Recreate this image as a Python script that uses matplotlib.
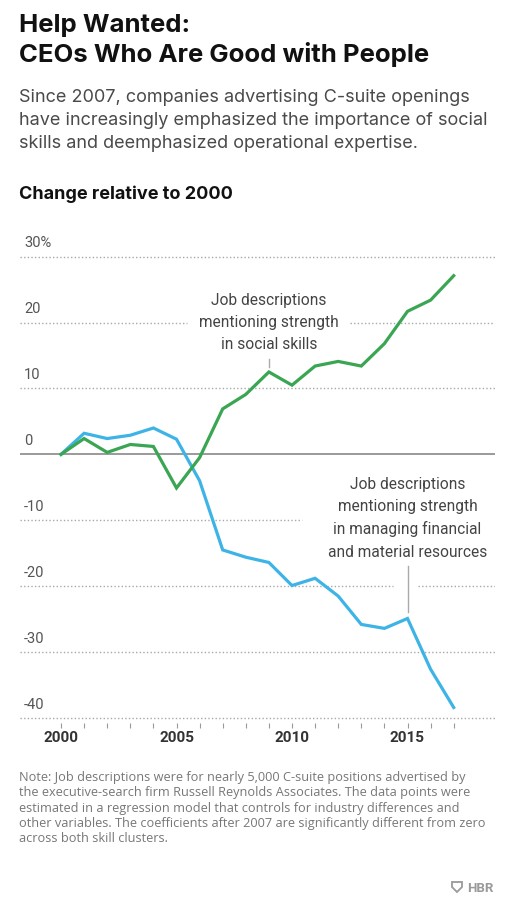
import matplotlib
matplotlib.use("Agg")
import matplotlib.pyplot as plt
from matplotlib.patches import Polygon
import matplotlib.transforms as mtrans

years = list(range(2000, 2018))
social = [0, 2.4, 0.3, 1.5, 1.2, -5.1, -0.5, 6.9, 9.1, 12.5, 10.5, 13.4, 14.1, 13.4, 16.8, 21.7, 23.4, 27.1]
financial = [0, 3.2, 2.4, 2.9, 4.0, 2.3, -4.0, -14.5, -15.6, -16.4, -19.9, -18.8, -21.5, -25.8, -26.4, -24.9, -32.6, -38.4]
ytick_vals = [30, 20, 10, 0, -10, -20, -30, -40]
ytick_labels = ["30%", "20", "10", "0", "-10", "-20", "-30", "-40"]
xtick_major = [2000, 2005, 2010, 2015]

title = "Help Wanted:\nCEOs Who Are Good with People"
subtitle = ("Since 2007, companies advertising C-suite openings\n"
            "have increasingly emphasized the importance of social\n"
            "skills and deemphasized operational expertise.")
axis_title = "Change relative to 2000"
label_social = "Job descriptions\nmentioning strength\nin social skills"
label_fin = "Job descriptions\nmentioning strength\nin managing financial\nand material resources"
note = ("Note: Job descriptions were for nearly 5,000 C-suite positions advertised by\n"
        "the executive-search firm Russell Reynolds Associates. The data points were\n"
        "estimated in a regression model that controls for industry differences and\n"
        "other variables. The coefficients after 2007 are significantly different from zero\n"
        "across both skill clusters.")

GREEN = "#3aa552"
BLUE = "#3db4e5"
GRID = "#a8a8a8"
COND = ["Roboto", "DejaVu Sans"]
HEAD = ["Inter", "Roboto", "DejaVu Sans"]

W, H = 511, 905
fig = plt.figure(figsize=(W / 100, H / 100), dpi=100)
fig.patch.set_facecolor("white")

def fx(px):
    return px / W

def fy(py):
    return 1 - py / H

# Header texts (va='baseline' on multi-line text aligns the last line)
fig.text(fx(19), fy(61.7), title, fontsize=18.5, fontweight="bold", family=HEAD,
         color="#111111", va="baseline", ha="left", linespacing=1.25)
fig.text(fx(19), fy(147.7), subtitle, fontsize=13, family=HEAD,
         color="#4a4a4a", va="baseline", ha="left", linespacing=1.45)
fig.text(fx(19), fy(199), axis_title, fontsize=13, fontweight="bold", family=HEAD,
         color="#111111", va="baseline", ha="left")

# Axes
ax_left, ax_right = 20, 495
ax_top, ax_bottom = 255.3, 723.3
ax = fig.add_axes([fx(ax_left), fy(ax_bottom), (ax_right - ax_left) / W, (ax_bottom - ax_top) / H])
ax.set_facecolor("none")
px_per_year = 23.1
x0 = 2000 - (61 - ax_left) / px_per_year
x1 = 2000 + (ax_right - 61) / px_per_year
ax.set_xlim(x0, x1)
ax.set_ylim(-40.8, 30.2)

def xd(px):
    return 2000 + (px - 61) / px_per_year

grid_kw = dict(color=GRID, linewidth=1.0, linestyle=(0, (1, 1.6)), zorder=1)
segments = {
    30: [(ax_left, ax_right)],
    20: [(ax_left, 187), (350, ax_right)],
    10: [(ax_left, ax_right)],
    -10: [(ax_left, 302)],
    -20: [(ax_left, 393), (418, ax_right)],
    -30: [(ax_left, ax_right)],
    -40: [(ax_left, ax_right)],
}
for v in ytick_vals:
    if v == 0:
        ax.hlines(0, x0, x1, color="#9a9a9a", linewidth=1.4, zorder=1)
        continue
    for a, b in segments[v]:
        ax.hlines(v, xd(a), xd(b), **grid_kw)

# Y labels above gridlines
ylab_tr = mtrans.blended_transform_factory(fig.transFigure, ax.transData)
for v, lab in zip(ytick_vals, ytick_labels):
    ax.annotate(lab, xy=(fx(24), v), xycoords=ylab_tr, xytext=(0, 4.5), textcoords="offset points",
                fontsize=10.5, family=COND, color="#555555", ha="left", va="bottom")

# Lines
ax.plot(years, financial, color=BLUE, linewidth=2.3, zorder=3, solid_joinstyle="miter")
ax.plot(years, social, color=GREEN, linewidth=2.3, zorder=4, solid_joinstyle="miter")

# Annotations (last-line baselines)
ax.text(2009, 16.0, label_social, family=COND, fontsize=11.2, color="#444444",
        ha="center", va="baseline", linespacing=1.59)
ax.plot([2009, 2009], [13.3, 14.5], color="#aaaaaa", linewidth=1.0, zorder=2)
ax.text(2015, -15.5, label_fin, family=COND, fontsize=11.2, color="#444444",
        ha="center", va="baseline", linespacing=1.59)
ax.plot([2015, 2015], [-16.9, -23.9], color="#aaaaaa", linewidth=1.0, zorder=2)

# Ticks
for s in ax.spines.values():
    s.set_visible(False)
ax.set_yticks([])
ax.set_xticks(xtick_major)
ax.set_xticks(years, minor=True)
ax.set_xticklabels([str(y) for y in xtick_major], family=COND, fontsize=11, color="#333333",
                   fontweight="bold")
ax.tick_params(axis="x", which="both", direction="out", length=3.5, width=0.8, color="#9a9a9a", pad=2)

# Note
fig.text(fx(19), fy(841.7), note, fontsize=9.2, family=["Open Sans", "DejaVu Sans"], color="#777777",
         va="baseline", ha="left", linespacing=1.21)

# HBR logo
shield = Polygon([[fx(452), fy(882)], [fx(462), fy(882)], [fx(462), fy(887)], [fx(457), fy(892)],
                  [fx(452), fy(887)]], closed=True, transform=fig.transFigure,
                 facecolor="none", edgecolor="#9a9a9a", linewidth=1.3)
fig.patches.append(shield)
fig.text(fx(494), fy(892), "HBR", fontsize=9.5, fontweight="bold", family=["Roboto", "DejaVu Sans"],
         color="#9a9a9a", ha="right", va="baseline")

fig.savefig("out.png", dpi=100, facecolor="white")
